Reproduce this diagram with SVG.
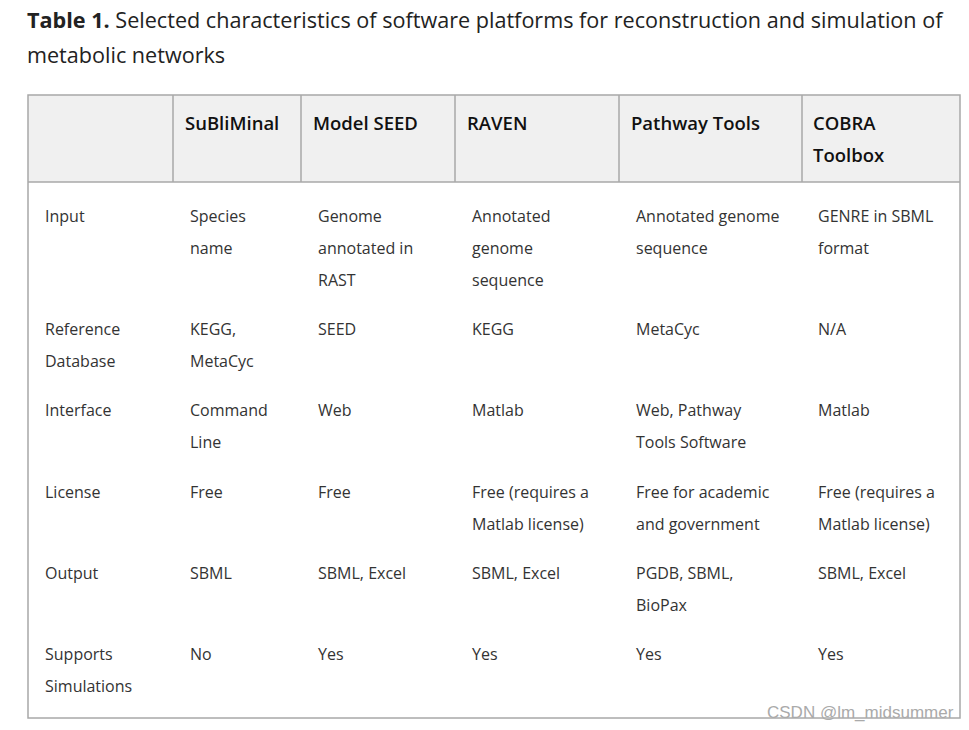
<svg xmlns="http://www.w3.org/2000/svg" width="969" height="730" viewBox="0 0 969 730">
<style>
.t{font-family:"Open Sans","Noto Sans",sans-serif;fill:#333;font-size:16px}
.h{font-family:"Open Sans","Noto Sans",sans-serif;fill:#111;font-size:18.5px;font-weight:600}
.ti{font-family:"Open Sans","Noto Sans",sans-serif;fill:#222;font-size:21.6px}
.g{stroke:#a8a8a8;stroke-width:1.5;fill:none}
</style>
<rect width="969" height="730" fill="#fff"/>
<text class="ti" x="27" y="28"><tspan font-weight="700">Table 1.</tspan> Selected characteristics of software platforms for reconstruction and simulation of</text>
<text class="ti" x="27" y="63">metabolic networks</text>
<g id="table">
<rect x="28" y="95" width="932" height="87" fill="#f0f0f0"/>
<rect class="g" x="28" y="95" width="932" height="623"/>
<line class="g" x1="28" y1="182" x2="960" y2="182"/>
<line class="g" x1="173" y1="95" x2="173" y2="182"/>
<line class="g" x1="301" y1="95" x2="301" y2="182"/>
<line class="g" x1="455" y1="95" x2="455" y2="182"/>
<line class="g" x1="619" y1="95" x2="619" y2="182"/>
<line class="g" x1="802" y1="95" x2="802" y2="182"/>
</g>
<g id="header">
<text class="h" x="185" y="130">SuBliMinal</text>
<text class="h" x="313" y="130">Model SEED</text>
<text class="h" x="467" y="130">RAVEN</text>
<text class="h" x="631" y="130">Pathway Tools</text>
<text class="h" x="813" y="130">COBRA</text>
<text class="h" x="813" y="162">Toolbox</text>
</g>
<g id="body">
<text class="t" x="45" y="222">Input</text>
<text class="t" x="190" y="222">Species</text><text class="t" x="190" y="254">name</text>
<text class="t" x="318" y="222">Genome</text><text class="t" x="318" y="254">annotated in</text><text class="t" x="318" y="286">RAST</text>
<text class="t" x="472" y="222">Annotated</text><text class="t" x="472" y="254">genome</text><text class="t" x="472" y="286">sequence</text>
<text class="t" x="636" y="222">Annotated genome</text><text class="t" x="636" y="254">sequence</text>
<text class="t" x="818" y="222">GENRE in SBML</text><text class="t" x="818" y="254">format</text>

<text class="t" x="45" y="335">Reference</text><text class="t" x="45" y="367">Database</text>
<text class="t" x="190" y="335">KEGG,</text><text class="t" x="190" y="367">MetaCyc</text>
<text class="t" x="318" y="335">SEED</text>
<text class="t" x="472" y="335">KEGG</text>
<text class="t" x="636" y="335">MetaCyc</text>
<text class="t" x="818" y="335">N/A</text>

<text class="t" x="45" y="416">Interface</text>
<text class="t" x="190" y="416">Command</text><text class="t" x="190" y="448">Line</text>
<text class="t" x="318" y="416">Web</text>
<text class="t" x="472" y="416">Matlab</text>
<text class="t" x="636" y="416">Web, Pathway</text><text class="t" x="636" y="448">Tools Software</text>
<text class="t" x="818" y="416">Matlab</text>

<text class="t" x="45" y="498">License</text>
<text class="t" x="190" y="498">Free</text>
<text class="t" x="318" y="498">Free</text>
<text class="t" x="472" y="498">Free (requires a</text><text class="t" x="472" y="530">Matlab license)</text>
<text class="t" x="636" y="498">Free for academic</text><text class="t" x="636" y="530">and government</text>
<text class="t" x="818" y="498">Free (requires a</text><text class="t" x="818" y="530">Matlab license)</text>

<text class="t" x="45" y="579">Output</text>
<text class="t" x="190" y="579">SBML</text>
<text class="t" x="318" y="579">SBML, Excel</text>
<text class="t" x="472" y="579">SBML, Excel</text>
<text class="t" x="636" y="579">PGDB, SBML,</text><text class="t" x="636" y="611">BioPax</text>
<text class="t" x="818" y="579">SBML, Excel</text>

<text class="t" x="45" y="660">Supports</text><text class="t" x="45" y="692">Simulations</text>
<text class="t" x="190" y="660">No</text>
<text class="t" x="318" y="660">Yes</text>
<text class="t" x="472" y="660">Yes</text>
<text class="t" x="636" y="660">Yes</text>
<text class="t" x="818" y="660">Yes</text>
</g>
<text x="767" y="718" font-family="Liberation Sans,Arial,sans-serif" font-size="17" fill="#aaa">CSDN @lm_midsummer</text>
</svg>
